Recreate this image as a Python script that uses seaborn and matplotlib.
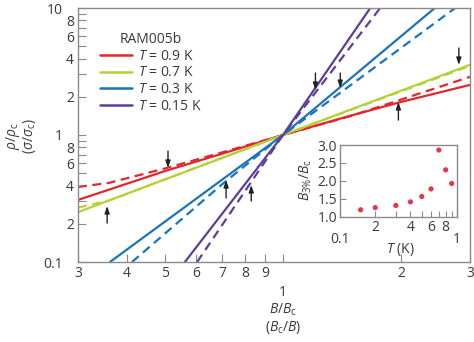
import numpy as np
import pandas as pd
import matplotlib
matplotlib.use("Agg")
import matplotlib.pyplot as plt
import matplotlib.transforms as mtransforms
from matplotlib.lines import Line2D
import seaborn as sns

# ---------------- data ----------------
red_solid_x = [0.3, 0.5, 0.7, 1.0, 1.5, 2.0, 3.0]
red_solid_y = [0.308, 0.52, 0.713, 1.0, 1.43, 1.82, 2.48]
red_dash_x = [0.3, 0.36, 0.5, 0.7, 1.0, 1.5, 2.0, 3.0]
red_dash_y = [0.39, 0.42, 0.545, 0.73, 1.0, 1.42, 1.9, 2.87]
green_solid_x = [0.3, 1.0, 3.0]
green_solid_y = [0.247, 1.0, 3.57]
green_dash_x = [0.3, 0.36, 1.0, 3.0]
green_dash_y = [0.268, 0.305, 1.0, 3.5]
blue_solid_x = [0.362, 1.0, 2.44]
blue_solid_y = [0.1, 1.0, 10.0]
blue_dash_x = [0.412, 0.7, 1.0, 2.75]
blue_dash_y = [0.1, 0.41, 1.0, 10.0]
purple_solid_x = [0.562, 1.0, 1.67]
purple_solid_y = [0.1, 1.0, 10.0]
purple_dash_x = [0.604, 1.0, 1.77]
purple_dash_y = [0.1, 1.0, 10.0]

legend_title = "RAM005b"
legend_labels = ["$T$ = 0.9 K", "$T$ = 0.7 K", "$T$ = 0.3 K", "$T$ = 0.15 K"]

arrow_x = [0.356, 0.509, 0.716, 0.83, 1.21, 1.40, 1.97, 2.81]
arrow_tail_y = [0.203, 0.748, 0.319, 0.302, 3.08, 3.08, 1.31, 4.84]
arrow_tip_y = [0.276, 0.55, 0.442, 0.404, 2.26, 2.34, 1.82, 3.56]

x_ticks = [0.3, 0.4, 0.5, 0.6, 0.7, 0.8, 0.9, 1, 2, 3]
x_ticklabels = ["3", "4", "5", "6", "7", "8", "9", "1", "2", "3"]
y_ticks = [0.1, 0.2, 0.3, 0.4, 0.5, 0.6, 0.7, 0.8, 0.9,
           1, 2, 3, 4, 5, 6, 7, 8, 9, 10]
y_ticklabels = ["0.1", "2", "", "4", "", "6", "", "8", "",
                "1", "2", "", "4", "", "6", "", "8", "", "10"]

inset_T = [0.15, 0.2, 0.3, 0.4, 0.5, 0.6, 0.7, 0.8, 0.9]
inset_B = [1.2, 1.26, 1.32, 1.42, 1.57, 1.78, 2.86, 2.31, 1.93]
inset_x_ticks = [0.1, 0.2, 0.3, 0.4, 0.5, 0.6, 0.7, 0.8, 0.9, 1.0]
inset_x_ticklabels = ["0.1", "2", "", "4", "", "6", "", "8", "", "1"]
inset_y_ticks = [1.0, 1.5, 2.0, 2.5, 3.0]
inset_y_ticklabels = ["1.0", "1.5", "2.0", "2.5", "3.0"]

# ---------------- style ----------------
sns.set_theme(style="white")
plt.rcParams["font.family"] = ["Open Sans", "DejaVu Sans"]
plt.rcParams["mathtext.fontset"] = "custom"
plt.rcParams["mathtext.rm"] = "Open Sans"
plt.rcParams["mathtext.it"] = "Open Sans:italic"
plt.rcParams["mathtext.bf"] = "Open Sans:bold"
TXT = "#3a3a3a"
SPINE = "#8a8a8a"

RED = "#e3262c"
GREEN = "#b4d235"
BLUE = "#1b74ba"
PURPLE = "#5e3f98"

fig = plt.figure(figsize=(4.74, 3.42), dpi=100)
ax = fig.add_axes([78 / 474, 1 - 262 / 342, 392 / 474, 254 / 342])
ax.set_xscale("log")
ax.set_yscale("log")

series = [
    (red_solid_x, red_solid_y, RED, "-"),
    (red_dash_x, red_dash_y, RED, "--"),
    (green_solid_x, green_solid_y, GREEN, "-"),
    (green_dash_x, green_dash_y, GREEN, "--"),
    (blue_solid_x, blue_solid_y, BLUE, "-"),
    (blue_dash_x, blue_dash_y, BLUE, "--"),
    (purple_solid_x, purple_solid_y, PURPLE, "-"),
    (purple_dash_x, purple_dash_y, PURPLE, "--"),
]
for xs, ys, c, ls in series:
    df = pd.DataFrame({"x": xs, "y": ys})
    sns.lineplot(data=df, x="x", y="y", ax=ax, color=c, sort=False,
                 estimator=None, lw=1.6, linestyle=ls,
                 **({"dashes": False} if ls == "-" else {}))
    if ls == "--":
        ax.lines[-1].set_dashes([4, 2.5])

ax.set_xlim(0.3, 3)
ax.set_ylim(0.1, 10)
ax.set_xlabel("")
ax.set_ylabel("")

for xa, yt, yh in zip(arrow_x, arrow_tail_y, arrow_tip_y):
    ax.annotate("", xy=(xa, yh), xytext=(xa, yt),
                arrowprops=dict(arrowstyle="-|>,head_length=0.35,head_width=0.12",
                                color="#222222", lw=1.0, shrinkA=0, shrinkB=0))

ax.xaxis.set_minor_locator(matplotlib.ticker.NullLocator())
ax.yaxis.set_minor_locator(matplotlib.ticker.NullLocator())
ax.set_xticks(x_ticks)
ax.set_xticklabels(x_ticklabels)
ax.set_yticks(y_ticks)
ax.set_yticklabels(y_ticklabels)
ax.tick_params(axis="both", which="major", direction="in", length=6, width=0.8,
               color=SPINE, labelsize=10, labelcolor=TXT, pad=3,
               left=True, bottom=True, top=False, right=False)
for s in ax.spines.values():
    s.set_color(SPINE)
    s.set_linewidth(1.0)

for lab in ax.get_xticklabels():
    if lab.get_text() == "1":
        lab.set_transform(lab.get_transform() +
                          mtransforms.ScaledTranslation(0, -19 / 100, fig.dpi_scale_trans))
for lab in ax.get_yticklabels():
    if lab.get_text() in ("0.1", "1", "10"):
        lab.set_transform(lab.get_transform() +
                          mtransforms.ScaledTranslation(-11 / 100, 0, fig.dpi_scale_trans))

# axis labels
fig.text(13 / 474, 1 - 136 / 342, r"$\rho/\rho_\mathrm{c}$", rotation=90,
         ha="center", va="center", fontsize=10, color=TXT)
fig.text(30 / 474, 1 - 136 / 342, r"$(\sigma/\sigma_\mathrm{c})$", rotation=90,
         ha="center", va="center", fontsize=10, color=TXT)
trans = mtransforms.blended_transform_factory(ax.transData, fig.transFigure)
ax.text(1.0, 1 - 310 / 342, r"$B/B_\mathrm{c}$", transform=trans,
        ha="center", va="center", fontsize=10, color=TXT)
ax.text(1.0, 1 - 328 / 342, r"$(B_\mathrm{c}/B)$", transform=trans,
        ha="center", va="center", fontsize=10, color=TXT)

# legend
handles = [Line2D([0], [0], color=c, lw=1.8) for c in (RED, GREEN, BLUE, PURPLE)]
leg = ax.legend(handles, legend_labels, title=legend_title, loc="upper left",
                bbox_to_anchor=(0.055, 0.905), frameon=False, fontsize=10,
                title_fontsize=10, handlelength=2.3, handletextpad=0.5,
                labelspacing=0.12, borderpad=0, borderaxespad=0)
for t in leg.get_texts():
    t.set_color(TXT)
leg.get_title().set_color(TXT)

# ---------------- inset ----------------
axi = fig.add_axes([340 / 474, 1 - 217 / 342, 117 / 474, 72 / 342])
axi.set_xscale("log")
sns.scatterplot(x=inset_T, y=inset_B, ax=axi, color="#e2364a", s=14,
                edgecolor="none", linewidth=0)
axi.set_xlim(0.1, 1.0)
axi.set_ylim(1.0, 3.0)
axi.xaxis.set_minor_locator(matplotlib.ticker.NullLocator())
axi.set_xticks(inset_x_ticks)
axi.set_xticklabels(inset_x_ticklabels)
axi.set_yticks(inset_y_ticks)
axi.set_yticklabels(inset_y_ticklabels)
axi.tick_params(axis="both", direction="in", length=4, width=0.8, color=SPINE,
                labelsize=10, labelcolor=TXT, pad=2, left=True, bottom=True)
for s in axi.spines.values():
    s.set_color(SPINE)
    s.set_linewidth(1.0)
for lab in axi.get_xticklabels():
    if lab.get_text() in ("0.1", "1"):
        lab.set_transform(lab.get_transform() +
                          mtransforms.ScaledTranslation(0, -12 / 100, fig.dpi_scale_trans))
axi.set_xlabel("")
axi.set_ylabel("")
fig.text(306 / 474, 1 - 180 / 342, r"$B_\mathrm{3\%}/B_\mathrm{c}$", rotation=90,
         ha="center", va="center", fontsize=10, color=TXT)
fig.text(400 / 474, 1 - 249 / 342, r"$T$ (K)", ha="center", va="center",
         fontsize=10, color=TXT)

fig.savefig("out.png", dpi=100)
